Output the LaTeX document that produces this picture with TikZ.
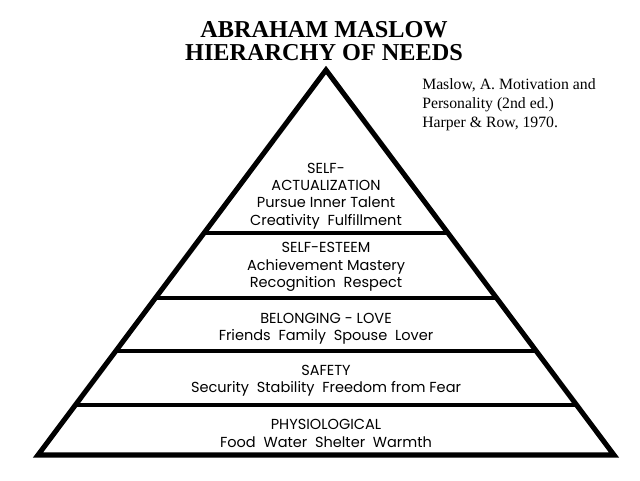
\documentclass[tikz,border=0pt]{standalone}
\usepackage{fontspec}
\setmainfont{Liberation Serif}
\newfontfamily\gothic{Poppins}
\usetikzlibrary{calc}
\begin{document}
\begin{tikzpicture}[x=0.75pt,y=-0.75pt,
  edge/.style={line width=3.8pt,line join=miter,line cap=butt},
  band/.style={line width=3pt},
  lvl/.style={font=\gothic\fontsize{10.9}{12.9}\selectfont,align=center,inner sep=0pt},
  ttl/.style={font=\bfseries\fontsize{18.2}{17.5}\selectfont,align=center,inner sep=0pt},
  cit/.style={font=\fontsize{11.8}{14.2}\selectfont,align=left,inner sep=0pt}]
\useasboundingbox (0,0) rectangle (640,480);
\fill[white] (0,0) rectangle (640,480);
\coordinate (apex) at (326,70);
\coordinate (bl) at (38,455);
\coordinate (br) at (614,455);
\draw[edge] (apex) -- (bl) -- (br) -- cycle;
\foreach \t/\n in {0.4234/a,0.5922/b,0.7299/c,0.8701/d}{
  \coordinate (L\n) at ($(apex)!\t!(bl)$);
  \coordinate (R\n) at ($(apex)!\t!(br)$);
  \draw[band] (L\n) -- (R\n);
}
\node[ttl] (title) at (324,41) {ABRAHAM MASLOW\\HIERARCHY OF NEEDS};
\node[cit,anchor=north west] (cite) at (422,78) {Maslow, A. Motivation and\\Personality (2nd ed.)\\Harper \& Row, 1970.};
\node[lvl] (l5) at (326,196) {SELF-\\ACTUALIZATION\\Pursue Inner Talent\\Creativity\ \ Fulfillment};
\node[lvl] (l4) at (326,267) {SELF-ESTEEM\\Achievement Mastery\\Recognition\ \ Respect};
\node[lvl] (l3) at (326,328.5) {BELONGING - LOVE\\Friends\ \ Family\ \ Spouse\ \ Lover};
\node[lvl] (l2) at (326,380.5) {SAFETY\\Security\ \ Stability\ \ Freedom from Fear};
\node[lvl] (l1) at (326,433.5) {PHYSIOLOGICAL\\Food\ \ Water\ \ Shelter\ \ Warmth};
\end{tikzpicture}
\end{document}
